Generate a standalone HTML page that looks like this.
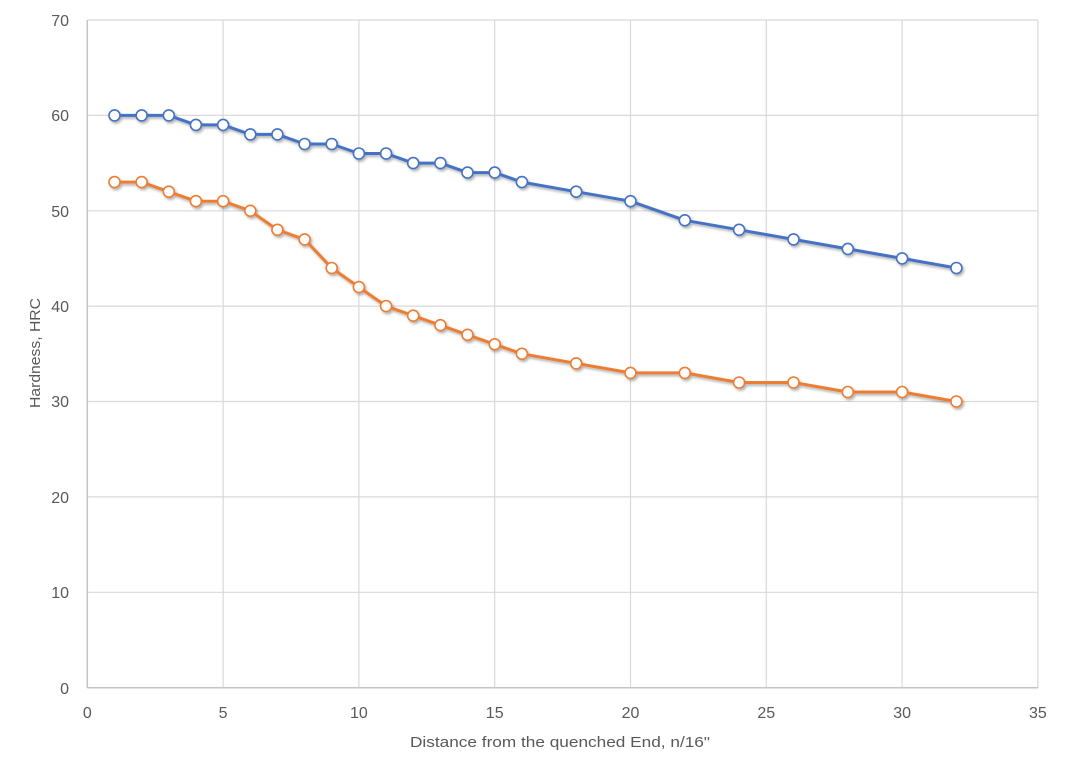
<!DOCTYPE html>
<html><head><meta charset="utf-8"><style>
html,body{margin:0;padding:0;background:#fff;}
svg{display:block;}
text{font-family:"Liberation Sans",sans-serif;fill:#595959;}
</style></head><body>
<svg width="1068" height="774" viewBox="0 0 1068 774" xmlns="http://www.w3.org/2000/svg">
<defs>
<filter id="sh" x="-10%" y="-10%" width="120%" height="130%">
<feDropShadow dx="1.5" dy="2" stdDeviation="1.2" flood-color="#000" flood-opacity="0.3"/>
</filter>
</defs>
<rect width="1068" height="774" fill="#fff"/>
<g stroke="#d9d9d9" stroke-width="1.2" fill="none">
<line x1="87.3" y1="20" x2="1037.9" y2="20"/>
<line x1="87.3" y1="115.4" x2="1037.9" y2="115.4"/>
<line x1="87.3" y1="210.8" x2="1037.9" y2="210.8"/>
<line x1="87.3" y1="306.1" x2="1037.9" y2="306.1"/>
<line x1="87.3" y1="401.5" x2="1037.9" y2="401.5"/>
<line x1="87.3" y1="496.9" x2="1037.9" y2="496.9"/>
<line x1="87.3" y1="592.3" x2="1037.9" y2="592.3"/>
<line x1="223.1" y1="20" x2="223.1" y2="687.7"/>
<line x1="358.9" y1="20" x2="358.9" y2="687.7"/>
<line x1="494.7" y1="20" x2="494.7" y2="687.7"/>
<line x1="630.5" y1="20" x2="630.5" y2="687.7"/>
<line x1="766.3" y1="20" x2="766.3" y2="687.7"/>
<line x1="902.1" y1="20" x2="902.1" y2="687.7"/>
<line x1="1037.9" y1="20" x2="1037.9" y2="687.7"/>
</g>
<g stroke="#c4c4c4" stroke-width="1.5">
<line x1="87.3" y1="20" x2="87.3" y2="688"/>
<line x1="87.3" y1="687.7" x2="1038" y2="687.7"/>
</g>
<g font-size="16" text-anchor="end">
<text x="69" y="26">70</text>
<text x="69" y="121">60</text>
<text x="69" y="217">50</text>
<text x="69" y="312">40</text>
<text x="69" y="407">30</text>
<text x="69" y="503">20</text>
<text x="69" y="598">10</text>
<text x="69" y="694">0</text>
</g>
<g font-size="16" text-anchor="middle">
<text x="87.3" y="718">0</text>
<text x="223.1" y="718">5</text>
<text x="358.9" y="718">10</text>
<text x="494.7" y="718">15</text>
<text x="630.5" y="718">20</text>
<text x="766.3" y="718">25</text>
<text x="902.1" y="718">30</text>
<text x="1037.9" y="718">35</text>
</g>
<text x="410" y="747" font-size="15" textLength="300" lengthAdjust="spacingAndGlyphs">Distance from the quenched End, n/16"</text>
<text transform="translate(40,408) rotate(-90)" x="0" y="0" font-size="15" textLength="110" lengthAdjust="spacingAndGlyphs">Hardness, HRC</text>

<g filter="url(#sh)">
<polyline fill="none" stroke="#4472C4" stroke-width="3" stroke-linejoin="round" points="114.5,115.4 141.6,115.4 168.8,115.4 195.9,124.9 223.1,124.9 250.3,134.4 277.4,134.4 304.6,144.0 331.7,144.0 358.9,153.5 386.1,153.5 413.2,163.1 440.4,163.1 467.5,172.6 494.7,172.6 521.9,182.1 576.2,191.7 630.5,201.2 684.8,220.3 739.1,229.8 793.5,239.4 847.8,248.9 902.1,258.4 956.4,268.0"/>
<polyline fill="none" stroke="#ED7D31" stroke-width="3" stroke-linejoin="round" points="114.5,182.1 141.6,182.1 168.8,191.7 195.9,201.2 223.1,201.2 250.3,210.8 277.4,229.8 304.6,239.4 331.7,268.0 358.9,287.1 386.1,306.1 413.2,315.7 440.4,325.2 467.5,334.8 494.7,344.3 521.9,353.8 576.2,363.4 630.5,372.9 684.8,372.9 739.1,382.5 793.5,382.5 847.8,392.0 902.1,392.0 956.4,401.5"/>
<g fill="#fff" stroke="#4472C4" stroke-width="1.6">
<circle cx="114.5" cy="115.4" r="5.5"/><circle cx="141.6" cy="115.4" r="5.5"/><circle cx="168.8" cy="115.4" r="5.5"/><circle cx="195.9" cy="124.9" r="5.5"/><circle cx="223.1" cy="124.9" r="5.5"/><circle cx="250.3" cy="134.4" r="5.5"/><circle cx="277.4" cy="134.4" r="5.5"/><circle cx="304.6" cy="144.0" r="5.5"/><circle cx="331.7" cy="144.0" r="5.5"/><circle cx="358.9" cy="153.5" r="5.5"/><circle cx="386.1" cy="153.5" r="5.5"/><circle cx="413.2" cy="163.1" r="5.5"/><circle cx="440.4" cy="163.1" r="5.5"/><circle cx="467.5" cy="172.6" r="5.5"/><circle cx="494.7" cy="172.6" r="5.5"/><circle cx="521.9" cy="182.1" r="5.5"/><circle cx="576.2" cy="191.7" r="5.5"/><circle cx="630.5" cy="201.2" r="5.5"/><circle cx="684.8" cy="220.3" r="5.5"/><circle cx="739.1" cy="229.8" r="5.5"/><circle cx="793.5" cy="239.4" r="5.5"/><circle cx="847.8" cy="248.9" r="5.5"/><circle cx="902.1" cy="258.4" r="5.5"/><circle cx="956.4" cy="268.0" r="5.5"/>
</g>
<g fill="#fff" stroke="#ED7D31" stroke-width="1.6">
<circle cx="114.5" cy="182.1" r="5.5"/><circle cx="141.6" cy="182.1" r="5.5"/><circle cx="168.8" cy="191.7" r="5.5"/><circle cx="195.9" cy="201.2" r="5.5"/><circle cx="223.1" cy="201.2" r="5.5"/><circle cx="250.3" cy="210.8" r="5.5"/><circle cx="277.4" cy="229.8" r="5.5"/><circle cx="304.6" cy="239.4" r="5.5"/><circle cx="331.7" cy="268.0" r="5.5"/><circle cx="358.9" cy="287.1" r="5.5"/><circle cx="386.1" cy="306.1" r="5.5"/><circle cx="413.2" cy="315.7" r="5.5"/><circle cx="440.4" cy="325.2" r="5.5"/><circle cx="467.5" cy="334.8" r="5.5"/><circle cx="494.7" cy="344.3" r="5.5"/><circle cx="521.9" cy="353.8" r="5.5"/><circle cx="576.2" cy="363.4" r="5.5"/><circle cx="630.5" cy="372.9" r="5.5"/><circle cx="684.8" cy="372.9" r="5.5"/><circle cx="739.1" cy="382.5" r="5.5"/><circle cx="793.5" cy="382.5" r="5.5"/><circle cx="847.8" cy="392.0" r="5.5"/><circle cx="902.1" cy="392.0" r="5.5"/><circle cx="956.4" cy="401.5" r="5.5"/>
</g>
</g>
</svg>
</body></html>
